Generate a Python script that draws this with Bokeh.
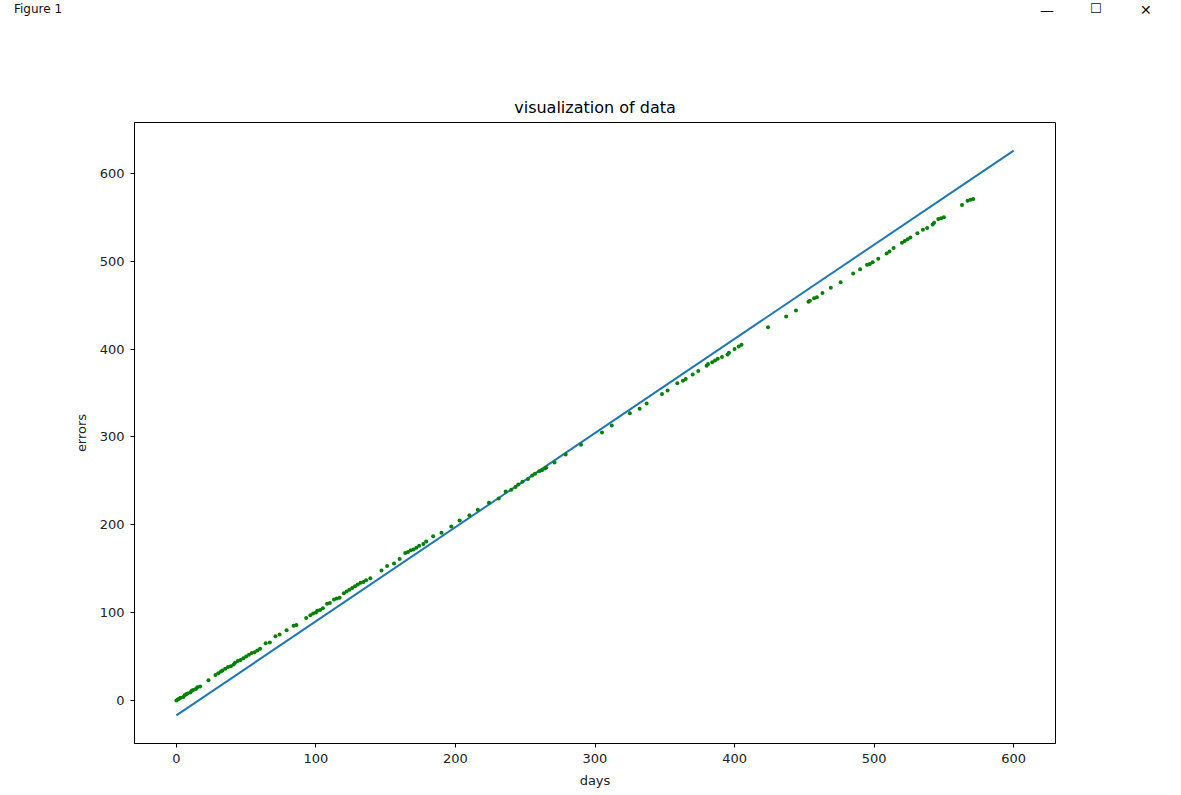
from bokeh.plotting import figure
from bokeh.models import Range1d, FixedTicker, Div
from bokeh.layouts import column
from bokeh.embed import file_html
from bokeh.resources import INLINE

# ---- data ----
days = [0, 1, 2, 3, 5, 6, 7, 8, 10, 11, 12, 14, 15, 17, 23,
        28, 30, 32, 33, 35, 37, 39, 41, 42, 44, 46, 48, 50,
        52, 54, 56, 58, 60, 64, 67, 71, 74, 79, 84, 86, 93,
        96, 98, 100, 101, 103, 105, 108, 110, 113, 115, 117,
        120, 122, 124, 126, 128, 130, 132, 134, 136, 139,
        147, 151, 156, 160, 164, 166, 168, 170, 172, 174, 177, 179,
        184, 190, 197, 203, 210, 216, 224, 231, 236, 240, 243, 245,
        248, 252, 255, 257, 260, 262, 264, 265, 271, 279, 290, 305, 312,
        325, 332, 337, 348, 352, 359, 363, 365, 370, 374, 380, 381, 384,
        386, 388, 391, 395, 396, 400, 403, 405,
        424, 437, 444, 453, 454, 457, 459, 463, 469, 476, 485, 490, 495,
        497, 499, 503, 509, 511, 514, 520, 522, 524, 526, 531, 535, 538,
        542, 543, 546, 548, 550, 563, 567, 569, 571]
errors = [0, 1, 2, 3, 4, 6, 7, 8, 9, 11, 12, 13, 15, 16, 23,
          29, 31, 33, 34, 36, 38, 39, 41, 43, 45, 46, 48, 50,
          52, 54, 55, 57, 59, 65, 66, 73, 75, 80, 85, 86, 94,
          97, 99, 100, 102, 103, 105, 110, 111, 115, 116, 117,
          122, 124, 126, 128, 130, 132, 134, 135, 137, 139,
          148, 153, 156, 161, 168, 169, 171, 172, 174, 176, 178, 181,
          187, 191, 198, 205, 211, 217, 225, 230, 238, 240, 243, 246,
          249, 252, 256, 258, 261, 262, 264, 265, 271, 280, 291, 305, 313,
          327, 332, 338, 349, 353, 361, 364, 366, 371, 375, 381, 383, 385,
          387, 389, 391, 394, 396, 400, 403, 405,
          425, 437, 444, 454, 455, 458, 459, 464, 470, 476, 486, 491, 496,
          497, 499, 503, 509, 511, 515, 521, 523, 525, 527, 532, 536, 538,
          542, 544, 548, 549, 550, 564, 569, 570, 571]

fit_days = [0, 600]
fit_errors = [-17, 626]

x_ticks = [0, 100, 200, 300, 400, 500, 600]
y_ticks = [0, 100, 200, 300, 400, 500, 600]

FONT = "DejaVu Sans"
HEADER = 20
LEFT, RIGHT, TOP, BOTTOM = 134, 118, 122 - HEADER, 48
FW, FH = 921, 621
W = LEFT + FW + RIGHT

p = figure(width=W, height=TOP + FH + BOTTOM,
           output_backend="svg", toolbar_location=None,
           x_range=Range1d(-30, 630), y_range=Range1d(-49, 658),
           title="visualization of data",
           min_border_left=LEFT, min_border_right=RIGHT,
           min_border_top=TOP, min_border_bottom=BOTTOM)
p.frame_width = FW
p.frame_height = FH

p.line(fit_days, fit_errors, line_color="#1f77b4", line_width=2)
p.scatter(days, errors, size=4, fill_color="green", line_color=None)

p.title.text_font = FONT
p.title.text_font_size = "16px"
p.title.text_font_style = "normal"
p.title.align = "center"
p.title.text_color = "black"
p.title.standoff = 12

p.xgrid.visible = False
p.ygrid.visible = False
p.outline_line_color = "black"
p.outline_line_alpha = 1
p.outline_line_width = 1
p.background_fill_color = "white"
p.border_fill_color = "white"

for ax in (p.xaxis[0], p.yaxis[0]):
    ax.axis_line_color = "black"
    ax.major_tick_line_color = "black"
    ax.major_tick_out = 4
    ax.major_tick_in = 0
    ax.minor_tick_line_color = None
    ax.major_label_text_font = FONT
    ax.major_label_text_font_size = "13px"
    ax.major_label_text_color = "#222222"
    ax.axis_label_text_font = FONT
    ax.axis_label_text_font_size = "13px"
    ax.axis_label_text_font_style = "normal"
    ax.axis_label_text_color = "#222222"

p.xaxis.ticker = FixedTicker(ticks=x_ticks)
p.yaxis.ticker = FixedTicker(ticks=y_ticks)
p.xaxis.axis_label = "days"
p.yaxis.axis_label = "errors"
p.xaxis.major_label_standoff = 6
p.yaxis.major_label_standoff = 6
p.xaxis.axis_label_standoff = 7
p.yaxis.axis_label_standoff = 8

# window title bar of the reference screenshot
header_html = (
    f'<div style="position:relative;width:{W}px;height:{HEADER}px;'
    f'font-family:\'DejaVu Sans\',sans-serif;color:#111;background:white;">'
    '<span style="position:absolute;left:14px;top:1px;font-size:12px;">Figure 1</span>'
    '<span style="position:absolute;left:1040px;top:0px;font-size:14px;">—</span>'
    '<span style="position:absolute;left:1090px;top:0px;font-size:13px;">☐</span>'
    '<span style="position:absolute;left:1140px;top:0px;font-size:14px;">✕</span>'
    '</div>'
)
header = Div(text=header_html, width=W, height=HEADER, margin=(0, 0, 0, 0))

layout = column(header, p, spacing=0)
open("out.html", "w").write(file_html(layout, INLINE))
